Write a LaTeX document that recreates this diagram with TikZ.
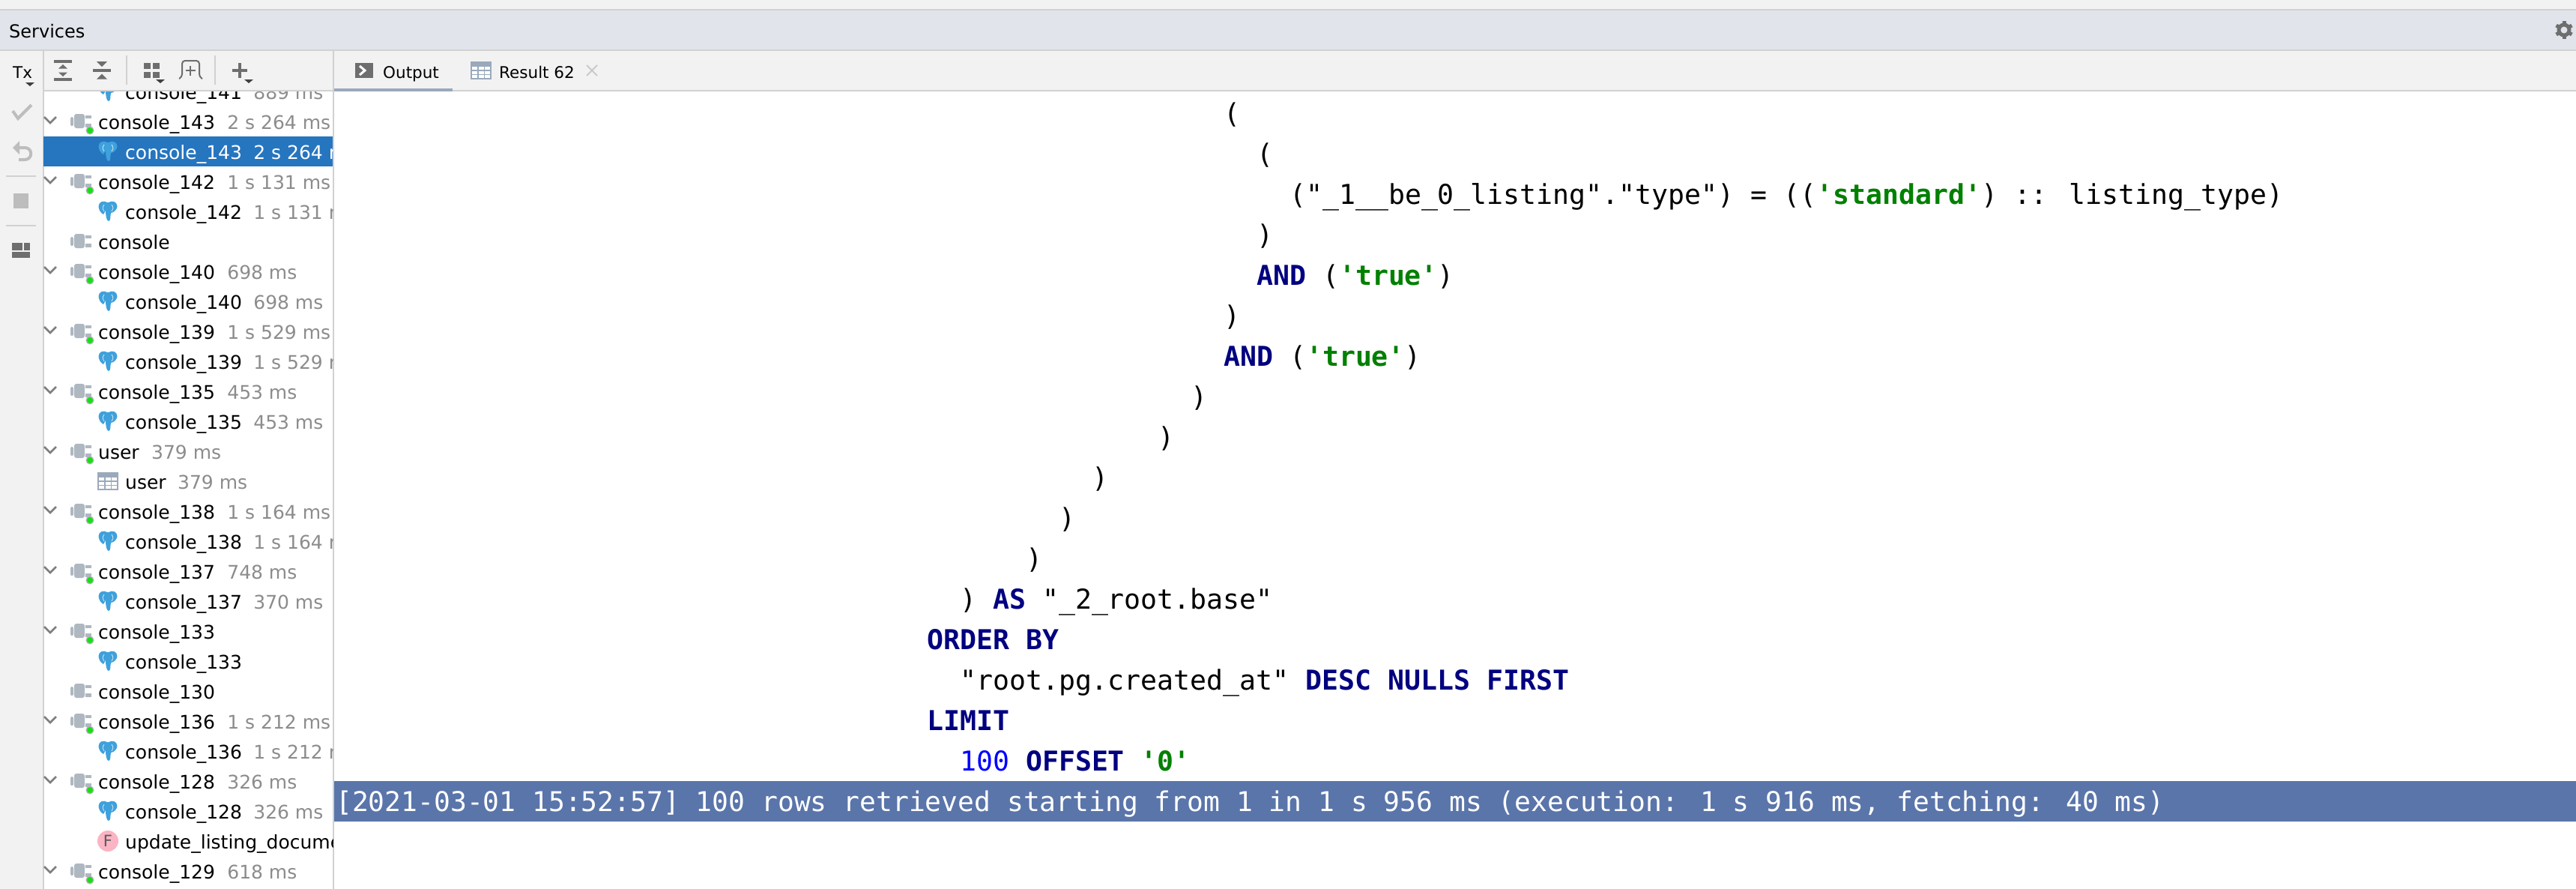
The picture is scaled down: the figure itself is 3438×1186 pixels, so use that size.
\documentclass[tikz,border=0pt]{standalone}
\usepackage{fontspec}
\setmainfont{DejaVu Sans}
\newfontfamily\codefont{DejaVu Sans Mono}
\usepackage{tikz}
\usetikzlibrary{positioning}
\definecolor{panelbg}{HTML}{F2F2F2}
\definecolor{headerbg}{HTML}{E1E4EB}
\definecolor{edgegray}{HTML}{D1D1D1}
\definecolor{tabblue}{HTML}{9AA9BC}
\definecolor{iconblue}{HTML}{AFB8C1}
\definecolor{pgblue}{HTML}{3FA1DC}
\definecolor{selblue}{HTML}{2675BF}
\definecolor{barblue}{HTML}{5A75AA}
\definecolor{icondark}{HTML}{6E6E6E}
\definecolor{iconpale}{HTML}{BDBDBD}
\definecolor{timegray}{HTML}{8C8C8C}
\definecolor{dotgreen}{HTML}{16E016}
\definecolor{kwblue}{HTML}{000080}
\definecolor{strgreen}{HTML}{008000}
\definecolor{funcpink}{HTML}{FAB4C3}
\newcommand{\sqlkw}[1]{\textbf{\textcolor{kwblue}{#1}}}
\newcommand{\sqlstr}[1]{\textbf{\textcolor{strgreen}{#1}}}
\tikzset{
  rowname/.style={anchor=base west, inner sep=0pt, font=\fontsize{25}{30}\selectfont},
  rowtime/.style={inner sep=0pt, text=timegray, font=\fontsize{25}{30}\selectfont},
  tabtext/.style={anchor=base west, inner sep=0pt, font=\fontsize{21.5}{26}\selectfont},
  codeline/.style={anchor=base west, inner sep=0pt, font=\codefont\fontsize{36.5}{44}\selectfont},
  caret/.pic={\fill[black!75] (-6,-2.5) -- (6,-2.5) -- (0,2.5) -- cycle;},
  chevronicon/.pic={\draw[timegray!90!black, line width=2.5pt] (-8,-6) -- (0,2) -- (8,-6);},
  connicon/.pic={
    \fill[iconblue, rounded corners=3pt] (-22,-10) rectangle (-8,9);
    \fill[iconblue, rounded corners=1.5pt] (-27,-6) rectangle (-23,6);
    \fill[iconblue] (-7,-8) rectangle (1,-4);
    \fill[iconblue] (-7,3) rectangle (1,8);
  },
  statusdot/.pic={
    \fill[black!30] (0,0) circle (5.5);
    \fill[dotgreen] (0,0) circle (4);
  },
  pgicon/.pic={
    \fill[pgblue] (-1,-12) .. controls (-6,-15) and (-12,-13) .. (-12.5,-7)
      .. controls (-12.5,-3) and (-10,2) .. (-6,4) -- (-3,-1)
      .. controls (-3,5) and (-2,13) .. (1,13)
      .. controls (4,13) and (3,6) .. (4,2)
      .. controls (8,2) and (12.5,-3) .. (12.5,-7)
      .. controls (12,-13) and (6,-15) .. (1,-12) -- cycle;
    \draw[white, line width=0.6pt] (-5,-9) .. controls (-8,-5) and (-7,-2) .. (-5,0);
    \draw[white, line width=0.6pt] (5,-9) .. controls (8,-5) and (7,-2) .. (5,0);
  },
  tableicon/.pic={
    \fill[tabblue] (-14,-12) rectangle (14,12);
    \foreach \cx in {-12,-3.5,5} \foreach \cy in {-5,0.5,6}
      \fill[white] (\cx,\cy) rectangle ++(7,4);
  },
}
\begin{document}
\begin{tikzpicture}[x=1pt, y=-1pt]
    \useasboundingbox (0,0) rectangle (3438,1186);
    \fill[white] (0,0) rectangle (3438,1186);

    % Window strips
    \fill[panelbg] (0,0) rectangle (3438,12);
    \fill[headerbg] (0,14) rectangle (3438,66);
    \fill[panelbg] (0,68) rectangle (3438,120);
    \fill[panelbg] (0,68) rectangle (57,1186);
    \fill[edgegray] (0,12) rectangle (3438,14);
    \fill[edgegray] (0,66) rectangle (3438,68);
    \fill[edgegray] (58,120) rectangle (3438,122);
    \fill[edgegray] (57,68) rectangle (58.5,1186);
    \fill[edgegray] (444,68) rectangle (446,1186);
    \fill[tabblue] (446,118) rectangle (604,122);

    % Header
    \node[tabtext, font=\fontsize{24}{28}\selectfont] (services) at (12,50) {Services};
    \foreach \a in {30,90,...,330}
      \draw[icondark, line width=5pt] (3422,40) ++(\a:8) -- ++(\a:4);
    \fill[icondark] (3422,40) circle (9.5);
    \fill[headerbg] (3422,40) circle (4.5);

    % Left toolbar
    \node[tabtext] (tx) at (17,104) {Tx};
    \pic at (40,112.5) {caret};
    \draw[iconpale, line width=4pt] (17,148) -- (24,158) -- (42,140);
    \fill[iconpale] (17,197) -- (26,188) -- (26,206) -- cycle;
    \draw[iconpale, line width=4pt] (24,197) -- (33,197) .. controls (44,197) and (44,213) .. (33,213) -- (25,213);
    \fill[edgegray] (8,234) rectangle (48,236);
    \fill[iconpale] (18,258) rectangle (38,278);
    \fill[edgegray] (8,300) rectangle (48,302);
    \fill[icondark] (16,324) rectangle (30,334);
    \fill[icondark] (32,324) rectangle (40,334);
    \fill[icondark] (16,336) rectangle (40,344);

    % Top toolbar
    \fill[icondark] (72,80) rectangle (96,84);
    \fill[icondark] (72,104) rectangle (96,108);
    \fill[icondark] (84,86) -- (90,91.5) -- (78,91.5) -- cycle;
    \fill[icondark] (84,102) -- (90,96.5) -- (78,96.5) -- cycle;
    \fill[icondark] (124,92) rectangle (148,96);
    \fill[icondark] (129,82) -- (143,82) -- (136,89) -- cycle;
    \fill[icondark] (129,105.5) -- (143,105.5) -- (136,98.5) -- cycle;
    \fill[edgegray] (168,74) rectangle (170,113);
    \foreach \gx in {192,204} \foreach \gy in {84,96}
      \fill[icondark] (\gx,\gy) rectangle ++(8.5,8);
    \pic at (214,108.5) {caret};
    \draw[icondark, line width=2pt, rounded corners=4pt] (239,105) -- (243,103) -- (243,81) -- (266,81) -- (266,103) -- (270,105);
    \draw[icondark, line width=2.5pt] (247.5,94) -- (260.5,94);
    \draw[icondark, line width=2.5pt] (254,87.5) -- (254,100.5);
    \fill[edgegray] (286,74) rectangle (288,113);
    \fill[icondark] (310,92) rectangle (330,96);
    \fill[icondark] (318,84) rectangle (322,104);
    \pic at (332,108.5) {caret};

    % Tabs
    \fill[icondark] (474,84) rectangle (498,104);
    \draw[white, line width=3pt] (480,88) -- (487,94) -- (480,100);
    \node[tabtext] (output) at (511,104) {Output};
    \pic at (642,94) {tableicon};
    \node[tabtext] (result) at (666,104) {Result 62};
    \draw[iconpale!80, line width=2pt] (783,87) -- (797,101);
    \draw[iconpale!80, line width=2pt] (783,101) -- (797,87);

    % Service tree
    \begin{scope}
      \clip (58,122) rectangle (444,1186);
      \fill[selblue] (58,182) rectangle (444,222);
      \foreach \y/\name/\ms [count=\n] in {
          162/console\_143/2 s 264 ms, 242/console\_142/1 s 131 ms,
          362/console\_140/698 ms, 442/console\_139/1 s 529 ms,
          522/console\_135/453 ms, 602/user/379 ms,
          682/console\_138/1 s 164 ms, 762/console\_137/748 ms,
          842/console\_133/, 962/console\_136/1 s 212 ms,
          1042/console\_128/326 ms, 1162/console\_129/618 ms} {
        \pic at (67,\y) {chevronicon};
        \pic at (121,\y) {connicon};
        \pic at (120,\y+12) {statusdot};
        \node[rowname] (parent\n) at (131,\y+10) {\name};
        \node[rowtime, base right=16pt of parent\n] (parenttime\n) {\ms};
      }
      \foreach \y/\name [count=\n] in {322/console, 922/console\_130} {
        \pic at (121,\y) {connicon};
        \node[rowname] (plain\n) at (131,\y+10) {\name};
      }
      \foreach \y/\name/\ms [count=\n] in {
          122/console\_141/889 ms, 282/console\_142/1 s 131 ms,
          402/console\_140/698 ms, 482/console\_139/1 s 529 ms,
          562/console\_135/453 ms, 722/console\_138/1 s 164 ms,
          802/console\_137/370 ms, 882/console\_133/,
          1002/console\_136/1 s 212 ms, 1082/console\_128/326 ms} {
        \pic at (144,\y) {pgicon};
        \node[rowname] (child\n) at (167,\y+10) {\name};
        \node[rowtime, base right=15pt of child\n] (childtime\n) {\ms};
      }
      \pic at (144,202) {pgicon};
      \node[rowname, text=white] (selected) at (167,212) {console\_143};
      \node[rowtime, text=white, base right=15pt of selected] (selectedtime) {2 s 264 ms};
      \pic at (144,642) {tableicon};
      \node[rowname] (usertable) at (167,652) {user};
      \node[rowtime, base right=15pt of usertable] (usertabletime) {379 ms};
      \fill[funcpink] (144,1122) circle (14);
      \node[inner sep=0pt, text=black!65, font=\fontsize{21}{25}\selectfont] (funcmark) at (144,1122) {F};
      \node[rowname] (funcname) at (167,1132) {update\_listing\_document};
    \end{scope}

    % SQL output
    \foreach \k/\col/\txt [count=\n] in {
        0/18/{(}, 1/20/{(},
        2/22/{("\_1\_\_be\_0\_listing"."type") = ((\sqlstr{'standard'}) :: listing\_type)},
        3/20/{)}, 4/20/{\sqlkw{AND} (\sqlstr{'true'})}, 5/18/{)},
        6/18/{\sqlkw{AND} (\sqlstr{'true'})}, 7/16/{)}, 8/14/{)}, 9/10/{)}, 10/8/{)}, 11/6/{)},
        12/2/{) \sqlkw{AS} "\_2\_root.base"}, 13/0/{\sqlkw{ORDER BY}},
        14/2/{"root.pg.created\_at" \sqlkw{DESC NULLS FIRST}}, 15/0/{\sqlkw{LIMIT}},
        16/2/{\textcolor{blue}{100} \sqlkw{OFFSET} \sqlstr{'0'}}}
      \node[codeline] (sql\n) at (1237+22*\col,164+54*\k) {\txt};

    % Status bar
    \fill[barblue] (446,1042) rectangle (3438,1096);
    \node[codeline, text=white, font=\codefont\fontsize{36.3}{44}\selectfont] (status) at (448,1082) {[2021-03-01 15:52:57] 100 rows retrieved starting from 1 in 1 s 956 ms (execution: 1 s 916 ms, fetching: 40 ms)};
\end{tikzpicture}
\end{document}
